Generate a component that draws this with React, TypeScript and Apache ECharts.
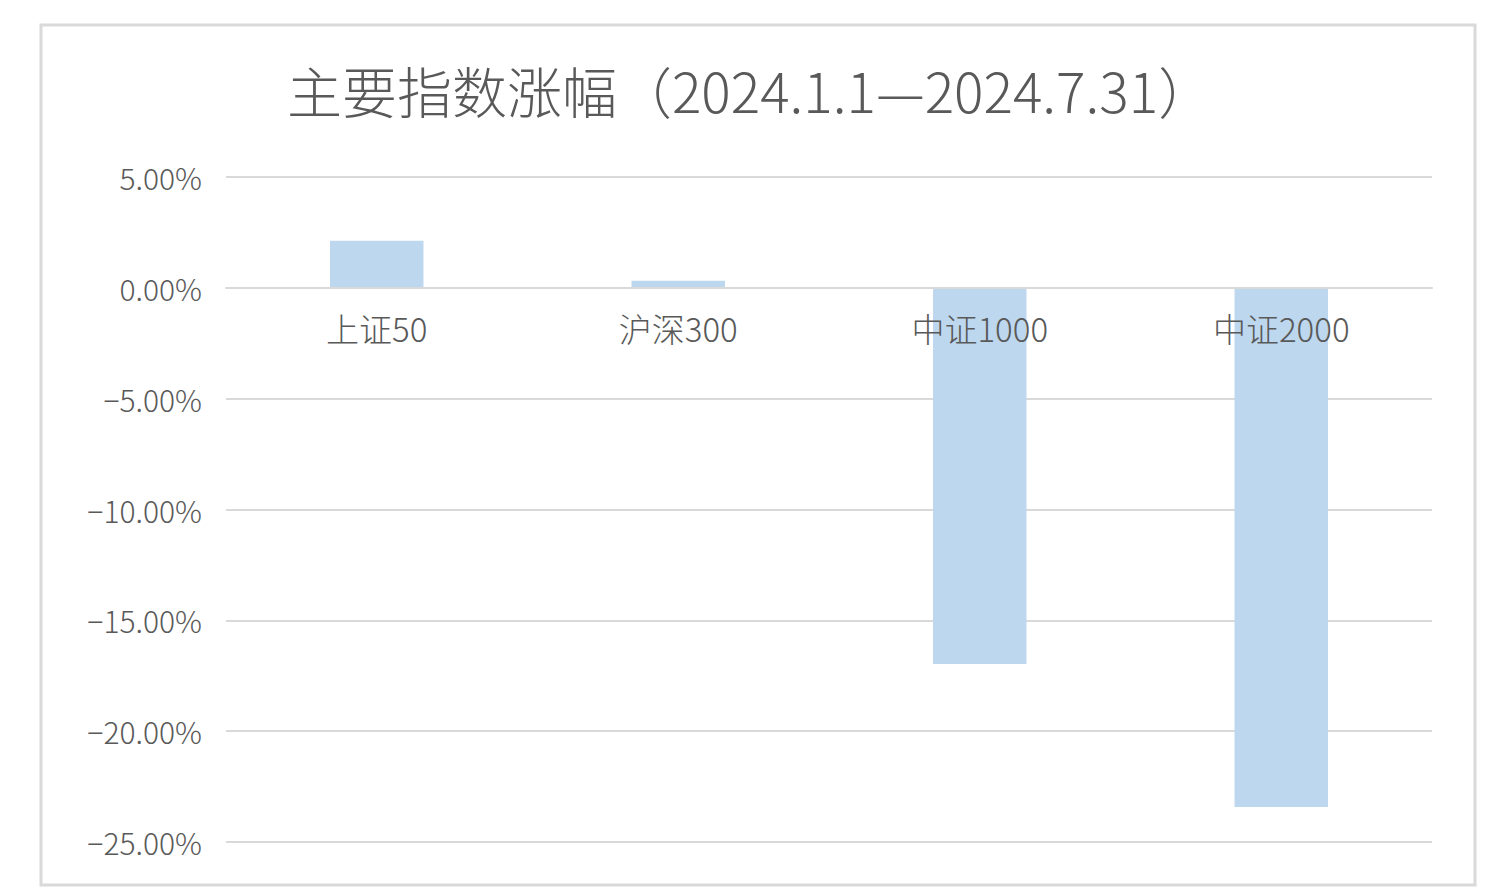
import React, { useEffect, useRef } from "react";
import * as echarts from "echarts";

const categories = ["上证50", "沪深300", "中证1000", "中证2000"];
const values = [2.12, 0.32, -16.97, -23.42];
const titleText = "主要指数涨幅（2024.1.1—2024.7.31）";
const yMin = -25;
const yMax = 5;

export default function App() {
  const ref = useRef<HTMLDivElement>(null);
  useEffect(() => {
    const chart = echarts.init(ref.current!, null, { renderer: "svg" });
    const font = "'Noto Sans CJK SC', 'Noto Sans', sans-serif";
    const gridTop = 177;
    const gridBottom = 48;
    const gridH = 890 - gridTop - gridBottom;
    const zeroOffset = (gridH * (0 - yMin)) / (yMax - yMin);
    chart.setOption({
      animation: false,
      backgroundColor: "#ffffff",
      title: {
        text: titleText,
        left: 745,
        textAlign: "center",
        top: 56,
        textStyle: { fontFamily: font, fontSize: 55, fontWeight: 300, color: "#595959" },
      },
      graphic: [
        {
          type: "rect",
          shape: { x: 41, y: 25, width: 1434, height: 860 },
          style: { fill: "none", stroke: "#d9d9d9", lineWidth: 3 },
          silent: true,
        },
      ],
      grid: { left: 226, right: 74, top: gridTop, bottom: gridBottom, containLabel: false },
      xAxis: {
        type: "category",
        data: categories,
        z: 10,
        offset: -zeroOffset,
        axisLine: { onZero: false, lineStyle: { color: "#d9d9d9", width: 2 } },
        axisTick: { show: false },
        axisLabel: { fontFamily: font, fontSize: 33, fontWeight: 300, color: "#595959", margin: 24 },
      },
      yAxis: {
        type: "value",
        min: yMin,
        max: yMax,
        interval: 5,
        axisLine: { show: false },
        axisTick: { show: false },
        splitLine: { lineStyle: { color: "#d9d9d9", width: 2 } },
        axisLabel: {
          fontFamily: font,
          fontSize: 30,
          fontWeight: 300,
          color: "#595959",
          margin: 24,
          padding: [0, 0, 4, 0],
          formatter: (v: number) => (v < 0 ? "−" : "") + Math.abs(v).toFixed(2) + "%",
        },
      },
      series: [
        {
          type: "bar",
          data: values,
          barWidth: "31%",
          itemStyle: { color: "#bdd7ee" },
        },
      ],
    });
    return () => chart.dispose();
  }, []);
  return <div ref={ref} style={{ position: "fixed", left: 0, top: 0, width: 1506, height: 890 }} />;
}
